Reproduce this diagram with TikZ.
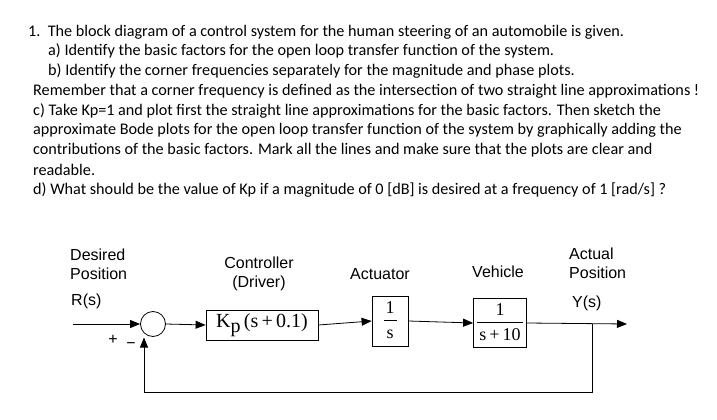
\documentclass[tikz,border=0pt]{standalone}
\usepackage{fontspec}
\setmainfont{Carlito}
\newfontfamily\arialf{Liberation Sans}
\newfontfamily\timesf{Liberation Serif}
\usetikzlibrary{arrows.meta}
\newcommand{\myfrac}[2]{\renewcommand{\arraystretch}{1.25}\setlength{\tabcolsep}{2pt}\begin{tabular}{c}#1\\[-1pt]\hline #2\end{tabular}}
\begin{document}
\begin{tikzpicture}[x=1pt,y=-1pt,
  txt/.style={anchor=west,inner sep=0pt,font=\fontsize{16.2}{18}\selectfont},
  lbl/.style={inner sep=0pt,align=center,font=\arialf\fontsize{16}{19}\selectfont},
  blk/.style={draw,thick,inner sep=0pt,font=\timesf\fontsize{18}{20}\selectfont},
  sig/.style={line width=0.8pt,-{Triangle[length=10pt,width=8pt]}},
  ln/.style={line width=0.8pt}]
\useasboundingbox (0,0) rectangle (717,420);
\node[txt] (l1) at (28,32) {1.\ \ The block diagram of a control system for the human steering of an automobile is given.};
\node[txt] (l2) at (48,51) {a) Identify the basic factors for the open loop transfer function of the system.};
\node[txt] (l3) at (48,71) {b) Identify the corner frequencies separately for the magnitude and phase plots.};
\node[txt] (l4) at (33,91) {Remember that a corner frequency is defined as the intersection of two straight line approximations !};
\node[txt] (l5) at (33,111) {c) Take Kp=1 and plot first the straight line approximations for the basic factors. Then sketch the};
\node[txt] (l6) at (33,130) {approximate Bode plots for the open loop transfer function of the system by graphically adding the};
\node[txt] (l7) at (33,150) {contributions of the basic factors. Mark all the lines and make sure that the plots are clear and};
\node[txt] (l8) at (33,170) {readable.};
\node[txt] (l9) at (33,190) {d) What should be the value of Kp if a magnitude of 0 [dB] is desired at a frequency of 1 [rad/s] ?};
% labels
\node[lbl,align=left,anchor=west] (dp) at (70,264) {Desired\\Position};
\node[lbl,anchor=west] (rs) at (71,301) {R(s)};
\node[lbl] (ctl) at (259,274) {Controller\\(Driver)};
\node[lbl] (act) at (380,274) {Actuator};
\node[lbl] (veh) at (498,272) {Vehicle};
\node[lbl,align=left,anchor=west] (ap) at (569,263) {Actual\\Position};
\node[lbl,anchor=west] (ys) at (572,303) {Y(s)};
% blocks
\coordinate (in) at (73,324);
\node[draw,line width=0.8pt,circle,minimum size=25pt,inner sep=0pt] (sum) at (153,324) {};
\node[blk,minimum width=112pt,minimum height=30pt,font=\timesf\fontsize{20}{22}\selectfont] (kp) at (262,325) {K\raisebox{-5pt}{p}\,(s\,+\,0.1)};
\node[blk,minimum width=36pt,minimum height=50pt] (ac) at (390,321) {\myfrac{1}{s}};
\node[blk,minimum width=53pt,minimum height=45pt] (vh) at (500,323) {\myfrac{1}{s\,+\,10}};
\coordinate (br) at (592,324);
\coordinate (out) at (627,324);
\coordinate (fb1) at (592,392);
\coordinate (fb2) at (144,392);
\draw[sig] (in) -- (sum.west);
\draw[sig] (sum.east) -- (kp.west);
\draw[sig] (kp.east) -- (ac.west);
\draw[sig] (ac.east) -- (vh.west);
\draw[sig] (vh.east) -- (out);
\draw[ln] (br) -- (fb1) -- (fb2);
\draw[sig] (fb2) -- (144,337.5);
\node[lbl] (plus) at (113,340) {+};
\node[lbl] (minus) at (131,346) {−};
\end{tikzpicture}
\end{document}
